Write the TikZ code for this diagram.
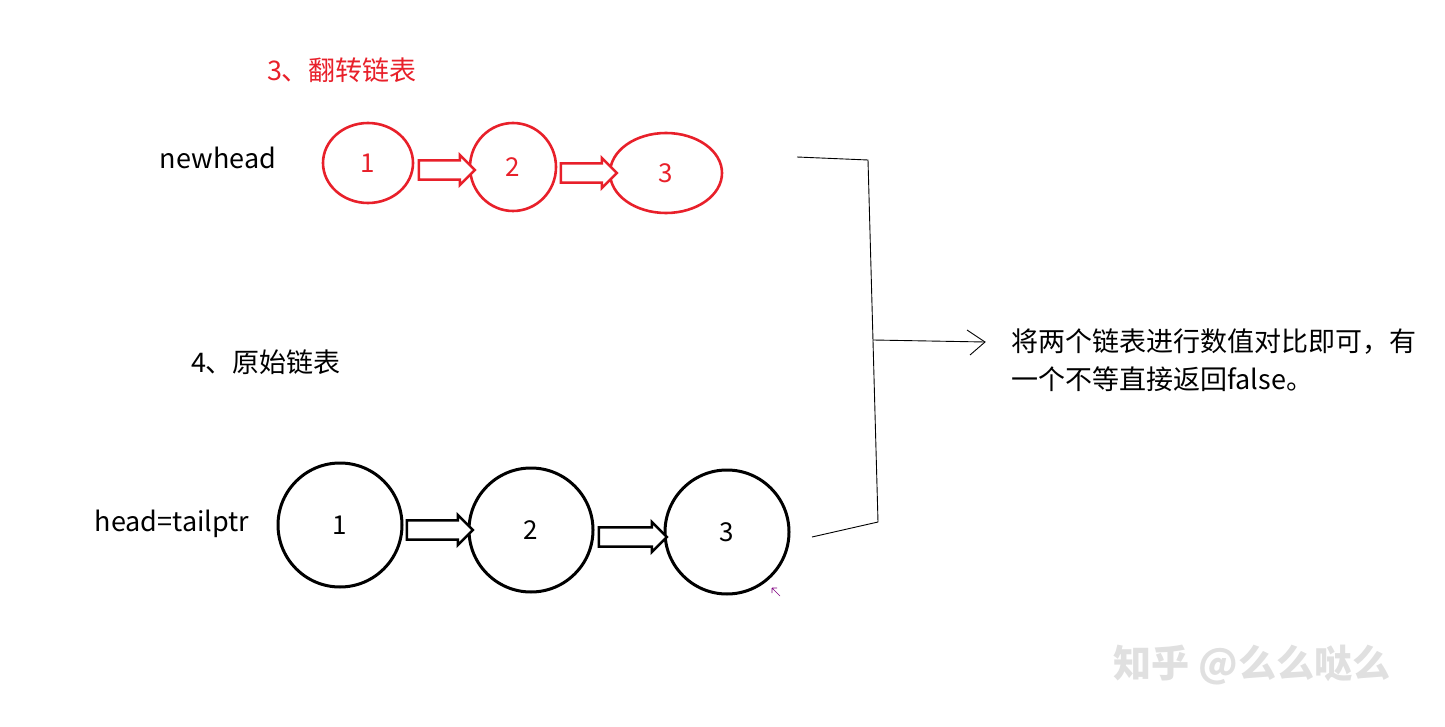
\documentclass[tikz,border=0pt]{standalone}
\usepackage{fontspec}
\setmainfont{Noto Sans CJK SC}
\usetikzlibrary{shapes.geometric,shapes.arrows}
\definecolor{myred}{RGB}{232,32,42}
\tikzset{
  redell/.style={draw=myred,line width=2.6pt,ellipse,text=myred,font=\fontsize{26}{30}\selectfont},
  blkcirc/.style={draw=black,line width=3pt,circle,minimum size=124pt,font=\fontsize{26}{30}\selectfont},
  blockarr/.style={single arrow,draw,line width=2.6pt,fill=white,minimum height=#1,single arrow head extend=4pt,inner xsep=0pt,inner ysep=6pt,minimum width=30pt},
  lbl/.style={font=\fontsize{27}{38}\selectfont},
}
\begin{document}
\begin{tikzpicture}[x=1pt,y=-1pt]
\useasboundingbox (0,0) rectangle (1445,727);
\node[lbl,text=myred] (t3) at (342,70) {3、翻转链表};
\node[lbl] (nh) at (218,158) {newhead};
\node[redell,minimum width=90pt,minimum height=80pt] (r1) at (368,163) {1};
\node[redell,minimum width=86pt,minimum height=88pt] (r2) at (513,167) {2};
\node[redell,minimum width=112pt,minimum height=80pt] (r3) at (666,173) {3};
\node[blockarr=56pt,draw=myred] (ra1) at (442,170) {};
\node[blockarr=56pt,draw=myred] (ra2) at (584,173) {};
\node[lbl] (t4) at (266,362) {4、原始链表};
\node[lbl] (ht) at (172,524) {head=tailptr};
\node[blkcirc] (b1) at (340,525) {1};
\node[blkcirc] (b2) at (531,530) {2};
\node[blkcirc] (b3) at (727,532) {3};
\node[blockarr=66pt] (ba1) at (435,530) {};
\node[blockarr=68pt] (ba2) at (628,537) {};
\coordinate (p1) at (797,157);
\coordinate (p2) at (868,160);
\coordinate (p3) at (878,522);
\coordinate (p4) at (812,537);
\coordinate (m1) at (873,340);
\coordinate (m2) at (985,342);
\draw[line width=0.9pt] (p1) -- (p2) -- (p3) -- (p4);
\draw[line width=0.9pt] (m1) -- (m2);
\draw[line width=0.9pt] (967,330) -- (m2) -- (970,355);
\node[lbl,anchor=west,align=left,text width=430pt] (txt) at (1008,360) {将两个链表进行数值对比即可，有\\一个不等直接返回false。};
\draw[violet,line width=0.6pt] (772,588) -- (780,596) (772,588) -- (772,593) (772,588) -- (777,588);
\node[font=\fontsize{38}{44}\selectfont\bfseries,text=black!12] (wm) at (1252,665) {知乎 @么么哒么};
\end{tikzpicture}
\end{document}
